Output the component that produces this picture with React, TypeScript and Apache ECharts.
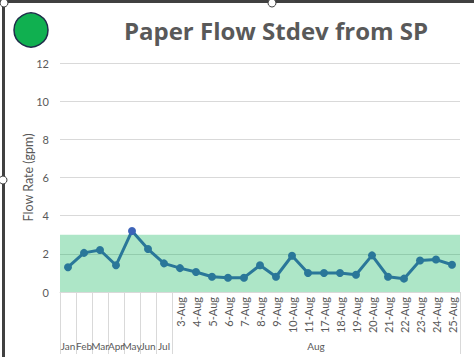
import React, { useEffect, useRef } from "react";
import * as echarts from "echarts";

const months = ["Jan", "Feb", "Mar", "Apr", "May", "Jun", "Jul"];
const augDays = [
  "3-Aug", "4-Aug", "5-Aug", "6-Aug", "7-Aug", "8-Aug", "9-Aug", "10-Aug", "11-Aug",
  "17-Aug", "18-Aug", "19-Aug", "20-Aug", "21-Aug", "22-Aug", "23-Aug", "24-Aug", "25-Aug",
];
const categories = [...months, ...augDays];
const flowStdev = [
  1.3, 2.05, 2.2, 1.4, 3.2, 2.25, 1.5,
  1.25, 1.05, 0.8, 0.75, 0.75, 1.4, 0.8, 1.9, 1.0,
  1.0, 1.0, 0.9, 1.92, 0.8, 0.7, 1.65, 1.7, 1.43,
];
const bandLow = 0;
const bandHigh = 3;
const yTicks = { min: 0, max: 12, interval: 2 };
const groupLabel = "Aug";

export default function App() {
  const ref = useRef<HTMLDivElement>(null);
  useEffect(() => {
    if (!ref.current) return;
    const chart = echarts.init(ref.current, null, { renderer: "svg" });
    const n = categories.length;
    const monthPos = months.map((_, i) => i + 0.5);
    const groupPos = months.length + augDays.length / 2;
    const sepTicks = [...months.map((_, i) => i), months.length, n];
    const font = "Lato, 'Open Sans', sans-serif";
    const titleFont = "'Open Sans', sans-serif";
    chart.setOption({
      animation: false,
      backgroundColor: "#ffffff",
      title: {
        text: "Paper Flow Stdev from SP",
        left: 271,
        textAlign: "center",
        top: 13,
        textStyle: { fontFamily: titleFont, fontSize: 24, fontWeight: "bold", color: "#595959" },
      },
      grid: { left: 60, right: 14, top: 63, bottom: 65 },
      xAxis: [
        {
          type: "category",
          data: categories,
          boundaryGap: true,
          axisLine: { lineStyle: { color: "#d9d9d9" } },
          axisTick: { show: false },
          axisLabel: {
            interval: 0,
            rotate: 90,
            margin: 5,
            fontSize: 11,
            fontFamily: font,
            color: "#595959",
            formatter: (v: string, i: number) => (i >= months.length ? v : ""),
          },
        },
        {
          type: "value",
          min: 0,
          max: n,
          position: "bottom",
          axisLine: { show: false },
          splitLine: { show: false },
          axisTick: {
            show: true,
            customValues: sepTicks,
            length: 62,
            lineStyle: { color: "#d9d9d9" },
          },
          axisLabel: {
            customValues: [...monthPos, groupPos],
            margin: 49,
            fontSize: 10,
            fontFamily: font,
            color: "#595959",
            formatter: (v: number) => {
              if (Math.abs(v - groupPos) < 0.01) return groupLabel;
              const idx = Math.round(v - 0.5);
              return months[idx] ?? "";
            },
          },
        },
      ],
      yAxis: {
        type: "value",
        min: yTicks.min,
        max: yTicks.max,
        interval: yTicks.interval,
        name: "Flow Rate (gpm)",
        nameLocation: "middle",
        nameGap: 25,
        nameMoveOverlap: false,
        nameTextStyle: { fontFamily: font, fontSize: 12.5, color: "#595959" },
        axisLine: { show: false },
        axisTick: { show: false },
        axisLabel: { margin: 11, fontSize: 11, fontFamily: font, color: "#595959" },
        splitLine: { lineStyle: { color: "#d9d9d9" } },
      },
      series: [
        {
          type: "line",
          xAxisIndex: 0,
          data: flowStdev.map((v, i) =>
            i === 4 ? { value: v, itemStyle: { color: "#3d63b8" } } : v
          ),
          symbol: "circle",
          symbolSize: 8,
          lineStyle: { color: "#2a7799", width: 3 },
          itemStyle: { color: "#2a7799" },
          z: 3,
          markArea: {
            silent: true,
            itemStyle: { color: "rgba(0,176,80,0.32)" },
            data: [[{ yAxis: bandLow }, { yAxis: bandHigh }]],
          },
        },
      ],
      graphic: [
        { type: "rect", shape: { x: 0, y: 0, width: 474, height: 3 }, style: { fill: "#404040" }, z: 10 },
        { type: "rect", shape: { x: 2, y: 0, width: 3, height: 357 }, style: { fill: "#404040" }, z: 10 },
        { type: "circle", shape: { cx: 4, cy: 3, r: 4 }, style: { fill: "#ffffff", stroke: "#404040", lineWidth: 1 }, z: 11 },
        { type: "circle", shape: { cx: 272, cy: 3, r: 4 }, style: { fill: "#ffffff", stroke: "#404040", lineWidth: 1 }, z: 11 },
        { type: "circle", shape: { cx: 3, cy: 180, r: 4 }, style: { fill: "#ffffff", stroke: "#404040", lineWidth: 1 }, z: 11 },
        { type: "circle", shape: { cx: 31, cy: 30, r: 17 }, style: { fill: "#10b050", stroke: "#1f2d4a", lineWidth: 1.5 }, z: 10 },
      ],
    });
    return () => chart.dispose();
  }, []);
  return (
    <div
      ref={ref}
      style={{ position: "fixed", left: 0, top: 0, width: 474, height: 357 }}
    />
  );
}
